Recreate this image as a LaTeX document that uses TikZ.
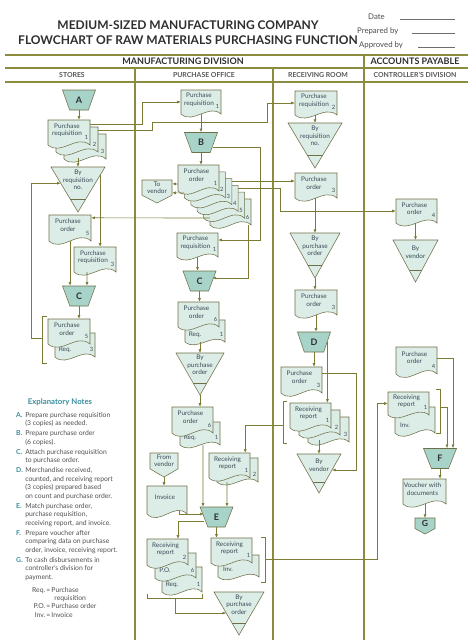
\documentclass[tikz,border=0pt]{standalone}
\usepackage{fontspec}
\setmainfont{Lato}
\usetikzlibrary{arrows.meta,shapes.geometric,calc}

\definecolor{rulecol}{HTML}{8C8C3E}
\definecolor{flowcol}{HTML}{7C7C36}
\definecolor{edgecol}{HTML}{6F7048}
\definecolor{paper}{HTML}{DCEDE7}
\definecolor{opfill}{HTML}{A7D3C9}
\definecolor{ink}{HTML}{3A4A57}
\definecolor{noteteal}{HTML}{3B8E9E}
\definecolor{notegray}{HTML}{505050}
\definecolor{headink}{HTML}{2E2E2E}

\tikzset{
  rulebar/.style={draw=rulecol, line width=1.1pt},
  docline/.style={draw=edgecol, line width=0.55pt, fill=paper},
  doctext/.style={text=ink, font=\fontsize{6.4}{7.5}\selectfont, align=center, inner sep=0pt},
  docnum/.style={text=ink, font=\fontsize{5.8}{6}\selectfont, inner sep=0pt},
  opbox/.style={trapezium, trapezium stretches=true, shape border rotate=180,
    trapezium left angle=70, trapezium right angle=70, minimum width=33pt,
    minimum height=20pt, inner sep=0pt, draw=edgecol, line width=0.55pt, fill=opfill,
    font=\fontsize{9}{9}\selectfont\bfseries, text=headink},
  arr/.style={draw=flowcol, line width=0.65pt, -{Latex[length=3.6pt,width=3pt]}},
  brk/.style={draw=flowcol, line width=0.65pt},
  divhead/.style={font=\fontsize{9}{9}\selectfont\bfseries, text=headink, inner sep=0pt},
  colhead/.style={font=\fontsize{6.9}{7}\selectfont\bfseries, text=headink!80, inner sep=0pt},
  meta/.style={font=\fontsize{7.8}{8}\selectfont, text=headink!85, inner sep=0pt, anchor=base west},
}

% document with a wavy lower edge, top left corner at (#1,#2)
\newcommand{\docpage}[4]{%
  \filldraw[docline] ({#1},{#2}) -- ({#1+#3},{#2}) -- ({#1+#3},{#2+#4})
    .. controls +({-0.3*#3},{-0.45*#4}) and +({0.3*#3},{0.45*#4}) .. ({#1},{#2+#4}) -- cycle;}
% name, x, y, w, h, text, copy number
\newcommand{\docnode}[7]{%
  \docpage{#2}{#3}{#4}{#5}
  \node[inner sep=0pt, minimum width=#4pt, minimum height=#5pt] (#1) at ({#2+#4/2},{#3+#5/2}) {};
  \node[doctext] (#1-txt) at ({#2+#4/2-2},{#3+0.4*#5}) {#6};
  \node[docnum] (#1-num) at ({#2+#4-3.5},{#3+#5-8}) {#7};}
% copy behind another one: label low on the left
\newcommand{\backnode}[7]{%
  \docpage{#2}{#3}{#4}{#5}
  \node[inner sep=0pt, minimum width=#4pt, minimum height=#5pt] (#1) at ({#2+#4/2},{#3+#5/2}) {};
  \node[doctext] (#1-txt) at ({#2+10},{#3+#5-7.5}) {#6};
  \node[docnum] (#1-num) at ({#2+#4-3.5},{#3+#5-8}) {#7};}
% offline file: name, left x, right x, top y, apex y, text
\newcommand{\filetri}[6]{%
  \coordinate (#1-tl) at ({#2},{#4});
  \coordinate (#1-tr) at ({#3},{#4});
  \coordinate (#1-top) at ({(#2+#3)/2},{#4});
  \coordinate (#1-apex) at ({(#2+#3)/2},{#5});
  \filldraw[docline] (#1-tl) -- (#1-tr) -- (#1-apex) -- cycle;
  \draw[draw=edgecol, line width=0.55pt] ($(#1-tl)!0.72!(#1-apex)$) -- ($(#1-tr)!0.72!(#1-apex)$);
  \node[doctext] (#1) at ({(#2+#3)/2},{#4+0.29*(#5-#4)}) {#6};}
% off-page connector: name, x, y, w, h, fill, text
\newcommand{\pagecon}[7]{%
  \filldraw[draw=edgecol, line width=0.55pt, fill=#6] ({#2},{#3}) -- ({#2+#4},{#3})
    -- ({#2+#4},{#3+0.66*#5}) -- ({#2+#4/2},{#3+#5}) -- ({#2},{#3+0.66*#5}) -- cycle;
  \node[doctext, minimum width=#4pt, minimum height={0.66*#5pt}] (#1) at ({#2+#4/2},{#3+0.33*#5}) {#7};
  \coordinate (#1-top) at ({#2+#4/2},{#3});
  \coordinate (#1-tip) at ({#2+#4/2},{#3+#5});}

\begin{document}
\begin{tikzpicture}[x=1pt,y=-1pt]
        \useasboundingbox (0,0) rectangle (474,640);
        \fill[white] (0,0) rectangle (474,640);
    % heading
        \node[font=\fontsize{12}{15}\selectfont\bfseries, text=headink, align=center] (title) at (188,33)
            {MEDIUM-SIZED MANUFACTURING COMPANY\\FLOWCHART OF RAW MATERIALS PURCHASING FUNCTION};
        \node[meta] (date) at (368,19) {Date};
        \node[meta] (prep) at (357,33) {Prepared by};
        \node[meta] (appr) at (359,47.5) {Approved by};
        \draw[headink!70, line width=0.5pt] (400,19) -- (455,19) (412,33) -- (455,33) (418,47.5) -- (455,47.5);
    % table
        \foreach \y in {55,68,82}{
            \draw[rulebar] (5,\y) -- (468,\y);
        }
        \draw[rulebar] (364,55) -- (364,640);
        \foreach \x in {135,273}{
            \draw[rulebar] (\x,68) -- (\x,640);
        }
        \node[divhead] (mfg) at (183,61.7) {MANUFACTURING DIVISION};
        \node[divhead] (ap) at (415,61.7) {ACCOUNTS PAYABLE};
        \foreach \x/\v/\t in {72/stores/STORES,204/office/PURCHASE OFFICE,318/receiving/RECEIVING ROOM,415/controller/CONTROLLER'S DIVISION}{
            \node[colhead] (\v) at (\x,75.3) {\t};
        }
    % stores
        \node[opbox] (A) at (79,100) {A};
        \foreach \k in {3,2}{
            \docnode{prA\k}{48+8*(\k-1)}{120+7*(\k-1)}{42}{25}{}{\k}
        }
        \docnode{prA}{48}{120}{42}{25}{Purchase\\requisition}{1}
        \filetri{st-file}{51}{105}{167}{212}{By\\requisition\\no.}
        \docnode{po5}{49}{215}{42}{26}{Purchase\\order}{5}
        \docnode{pr3}{74}{247}{42}{25}{Purchase\\requisition}{3}
        \node[opbox] (C1) at (79,296) {C};
        \backnode{stpob}{55}{333}{40}{24}{Req.}{3}
        \docnode{stpo}{48}{319}{42}{25}{Purchase\\order}{5}
        \draw[brk] (47,316) -- (42,316) -- (42,363) -- (47,363);
        \coordinate (stbrk) at (42,338);
    % purchase office
        \docnode{pr1a}{181}{90}{40}{24}{Purchase\\requisition}{1}
        \node[opbox] (B) at (201,142.5) {B};
        \foreach \k in {6,5,4,3,2}{
            \docnode{pos\k}{178+6.4*(\k-1)}{165+6.8*(\k-1)}{41}{26}{}{\k}
        }
        \docnode{pos1}{178}{165}{41}{26}{Purchase\\order}{1}
        \pagecon{tovendor}{142}{180}{30}{23}{paper}{To\\vendor}
        \docnode{pr1b}{177}{233}{41}{24}{Purchase\\requisition}{1}
        \node[opbox] (C2) at (199.5,281) {C};
        \backnode{pop1b}{185}{320}{40}{22}{Req.}{1}
        \docnode{pop1}{178}{302}{41}{25}{Purchase\\order}{6}
        \filetri{pofile1}{176}{224}{353}{395}{By\\purchase\\order}
        \backnode{pop2b}{180}{422}{40}{23}{Req.}{1}
        \docnode{pop2}{172}{407}{41}{26}{Purchase\\order}{6}
        \pagecon{fromvendor}{150}{453}{28}{24}{paper}{From\\vendor}
        \docnode{invoice}{147}{486}{40}{28}{Invoice}{}
        \backnode{porr2}{217}{458}{41}{24}{}{2}
        \docnode{porr1}{209}{453}{41}{25}{Receiving\\report}{1}
        \node[opbox] (E) at (216.5,517) {E};
        \backnode{lsreq}{162}{567}{40}{25}{Req.}{1}
        \backnode{lspo}{155}{553}{41}{25}{P.O.}{6}
        \docnode{lsrr}{147}{539}{41}{26}{Receiving\\report}{2}
        \draw[brk] (147,594) -- (147,598) -- (202,598) -- (202,594);
        \coordinate (lsbrk) at (175,598);
        \backnode{rrinv}{218}{555}{41}{22}{Inv.}{}
        \docnode{rri1}{211}{538}{41}{25}{Receiving\\report}{1}
        \draw[brk] (261,537) -- (265,537) -- (265,582) -- (261,582);
        \coordinate (rribrk) at (265,559);
        \filetri{pofile3}{214}{264}{592}{635}{By\\purchase\\order}
    % receiving room
        \docnode{rrpr2}{295}{91}{42}{24}{Purchase\\requisition}{2}
        \filetri{rrfile1}{288}{342}{123}{168}{By\\requisition\\no.}
        \docnode{rrpo3a}{295}{173}{42}{25}{Purchase\\order}{3}
        \filetri{rrfile2}{290}{340}{233}{278}{By\\purchase\\order}
        \docnode{rrpo3b}{295}{290}{42}{25}{Purchase\\order}{3}
        \node[opbox] (D) at (314,342) {D};
        \docnode{rrpo3c}{281}{367}{41}{26}{Purchase\\order}{3}
        \foreach \k in {3,2}{
            \docnode{rrs\k}{290+9*(\k-1)}{403+7*(\k-1)}{41}{25}{}{\k}
        }
        \docnode{rrs1}{290}{403}{41}{25}{Receiving\\report}{1}
        \draw[brk] (287,401) -- (283,401) -- (283,443) -- (287,443);
        \coordinate (rrbrk) at (283,425);
        \filetri{rrfile3}{297}{341}{454}{493}{By\\vendor}
    % controller's division
        \docnode{ctlpo4a}{396}{199}{41}{24}{Purchase\\order}{4}
        \filetri{ctlfile}{393}{438}{240}{282}{By\\vendor}
        \docnode{ctlpo4b}{396}{347}{41}{27}{Purchase\\order}{4}
        \backnode{ctlinv}{395}{407}{40}{26}{Inv.}{}
        \docnode{ctlrr1}{388}{392}{41}{23}{Receiving\\report}{1}
        \draw[brk] (436,389) -- (440,389) -- (440,433) -- (436,433);
        \coordinate (ctlbrk) at (440,407);
        \node[opbox] (F) at (440,458.5) {F};
        \docnode{voucher}{403}{479}{43}{25}{Voucher with\\documents}{}
        \pagecon{G}{415}{518}{20}{16}{opfill}{\bfseries\fontsize{8.5}{8.5}\selectfont\color{headink}G}
    % flow: stores
        \draw[arr] (A.south) -- (A.south |- prA.north);
        \draw[arr] ($(st-file-top)+(0,-9)$) -- (st-file-top);
        \draw[arr] ($(st-file-tr)!0.18!(st-file-apex)$) coordinate (st-out) -- (st-out |- pr3.north);
        \draw[arr] (po5.south) -- (po5.south |- C1.north);
        \draw[arr] ($(pr3.south)+(-8,0)$) -- ($(C1.north)+(8,0)$);
        \draw[arr] (C1.south) -- (C1.south |- stpo.north);
        \draw[arr] (stbrk) -- ++(-11,0) |- ($(st-file-tl)!0.36!(st-file-apex)$);
    % flow: purchase office
        \draw[arr] ($(prA.east)+(0,-8.5)$) -- ++(52,0) |- (pr1a.west);
        \draw[arr] ($(prA2.east)+(0,-9.5)$) -- ++(54,0) -- ++(0,-8) -- ++(115,0) |- (rrpr2.west);
        \draw[arr] (pr1a.south) -- (pr1a.south |- B.north);
        \draw[arr] (B.south) -- (B.south |- pos1.north);
        \draw[arr] ($(B.east)+(-1.5,4.5)$) -- ++(47.5,0) |- ($(pr1b.east)+(0,-5)$);
        \draw[arr] ($(pos1.west)+(0,6)$) -- ($(tovendor.east)+(0,-3.8)$);
        \draw[arr] ($(pos2.west)+(0,8.2)$) -- ($(tovendor.east)+(0,5.2)$);
        \draw[arr] ($(pos3.east)+(0,-10.6)$) -- ($(rrpo3a.west)+(0,-4.5)$);
        \draw[arr] ($(pos4.east)+(0,-10.4)$) -- ++(42,0) |- (ctlpo4a.west);
        \draw[arr] ($(pos6.west)+(0,6)$) -- ($(po5.north east)+(0,3)$);
        \draw[arr] ($(pos6.south east)+(-3,0)$) |- ($(C2.east)+(0,-3)$);
        \draw[arr] (pr1b.south) -- (pr1b.south |- C2.north);
        \draw[arr] (C2.south) -- (C2.south |- pop1.north);
        \draw[arr] ($(pofile1-top)+(0,-11)$) -- (pofile1-top);
        \draw[arr] (pofile1-apex) -- (pofile1-apex |- pop2.north);
        \draw[arr] ($(pop2b.south)+(3,0)$) -- ($(E.north)+(-13.5,0)$);
        \draw[arr] (fromvendor-tip) -- (fromvendor-tip |- invoice.north);
        \draw[arr] ($(invoice.south east)+(-8,-3)$) |- ($(E.west)+(0,-3)$);
        \draw[arr] (rrbrk) -| ($(porr1.north east)+(-5,0)$);
        \draw[arr] ($(porr2.south)+(-10.5,0)$) -- ($(E.north)+(10.5,0)$);
        \draw[arr] ($(E.west)+(0,4)$) -| ($(lsrr.north)+(10.5,0)$);
        \draw[arr] (E.south) -- (E.south |- rri1.north);
        \draw[arr] (lsbrk) |- ($(pofile3-tl)!0.49!(pofile3-apex)$);
        \draw[arr] (rribrk) -- ++(112,0) |- (ctlrr1.west);
    % flow: receiving room
        \draw[arr] (rrfile1-top |- rrpr2.south) -- (rrfile1-top);
        \draw[arr] (rrfile2-top |- rrpo3a.south) -- (rrfile2-top);
        \draw[arr] (rrfile2-apex) -- (rrfile2-apex |- rrpo3b.north);
        \draw[arr] (rrpo3b.south) -- (rrpo3b.south |- D.north);
        \draw[arr] (D.south) -- (D.south |- rrpo3c.north);
        \draw[arr] (D.east) -- (D.east |- rrs1.north);
        \draw[arr] ($(rrpo3c.east)+(0,-7)$) -- ++(34,0) |- ($(rrfile3-tr)!0.41!(rrfile3-apex)$);
        \draw[arr] ($(rrfile3-top)+(0,-14)$) -- (rrfile3-top);
    % flow: controller's division
        \draw[arr] (ctlfile-top |- ctlpo4a.south) -- (ctlfile-top);
        \draw[arr] ($(ctlpo4b.east)+(0,-2.5)$) -| ($(F.north)+(13,0)$);
        \draw[arr] (ctlbrk) -| ($(F.north)+(7,0)$);
        \draw[arr] (F.south) -- (F.south |- voucher.north);
        \draw[arr] (G-top |- voucher.south) -- (G-top);
    % notes
        \node[font=\fontsize{7.8}{8}\selectfont\bfseries, text=noteteal, inner sep=0pt] (nhead) at (60,402) {Explanatory Notes};
        \node[anchor=north west, inner sep=0pt, font=\fontsize{6.8}{8.6}\selectfont, text=notegray] (notes) at (16,411) {%
            \begin{tabular}{@{}l@{\hspace{2.5pt}}l@{}}
            \textcolor{noteteal}{\bfseries A.} & Prepare purchase requisition\\
             & (3 copies) as needed.\\[1.2pt]
            \textcolor{noteteal}{\bfseries B.} & Prepare purchase order\\
             & (6 copies).\\[1.2pt]
            \textcolor{noteteal}{\bfseries C.} & Attach purchase requisition\\
             & to purchase order.\\[1.2pt]
            \textcolor{noteteal}{\bfseries D.} & Merchandise received,\\
             & counted, and receiving report\\
             & (3 copies) prepared based\\
             & on count and purchase order.\\[1.2pt]
            \textcolor{noteteal}{\bfseries E.} & Match purchase order,\\
             & purchase requisition,\\
             & receiving report, and invoice.\\[1.2pt]
            \textcolor{noteteal}{\bfseries F.} & Prepare voucher after\\
             & comparing data on purchase\\
             & order, invoice, receiving report.\\[1.2pt]
            \textcolor{noteteal}{\bfseries G.} & To cash disbursements in\\
             & controller's division for\\
             & payment.
            \end{tabular}};
        \node[anchor=north west, inner sep=0pt, font=\fontsize{6.8}{8.4}\selectfont, text=notegray] (abbr) at (32,586) {%
            \begin{tabular}{@{}r@{\,=\,}l@{}}
            Req. & Purchase\\
            \multicolumn{1}{r@{\hspace{8pt}}}{} & \hspace{3pt}requisition\\
            P.O. & Purchase order\\
            Inv. & Invoice
            \end{tabular}};
\end{tikzpicture}
\end{document}
